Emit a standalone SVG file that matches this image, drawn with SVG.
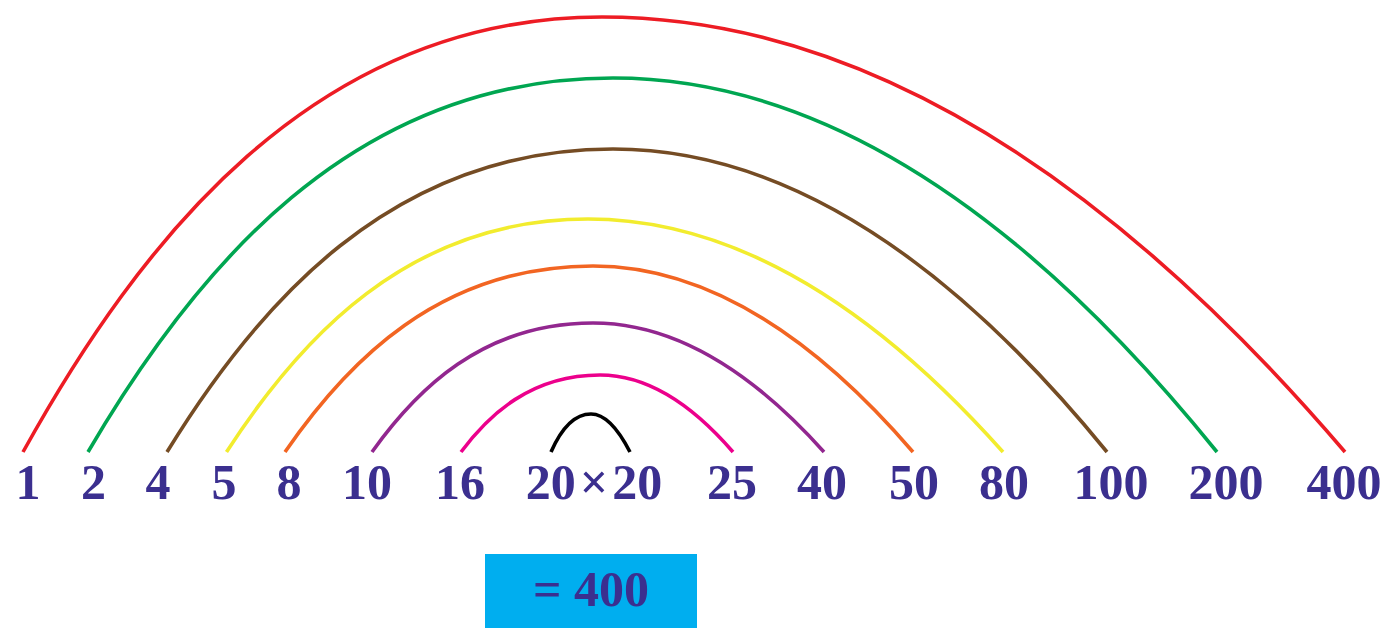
<svg xmlns="http://www.w3.org/2000/svg" width="1399" height="643" viewBox="0 0 1399 643">
<style>
.arc{fill:none;stroke-width:3.6;stroke-linecap:butt}
.lbl{font-family:"Liberation Serif","Times New Roman",serif;font-weight:bold;font-size:50px;fill:#3B2F8F;text-anchor:middle}
</style>
<rect width="1399" height="643" fill="#fff"/>
<g id="connectors">
<path class="arc" stroke="#ED1C24" d="M23,452 C138.8,243.2 312.5,17 602,17 C849.7,17 1097.3,162 1345,452"/>
<path class="arc" stroke="#00A651" d="M88,452 C193,272.5 350.5,78 613,78 C814.3,78 1015.7,202.7 1217,452"/>
<path class="arc" stroke="#754C24" d="M167,452 C256.2,306.6 390,149 613,149 C777.7,149 942.3,250 1107,452"/>
<path class="arc" stroke="#F2EC2E" d="M226.5,452 C298.8,340.2 407.25,219 588,219 C726.3,219 864.7,296.7 1003,452"/>
<path class="arc" stroke="#F26522" d="M285,452 C346.6,362.7 439,266 593,266 C699.7,266 806.3,328 913,452"/>
<path class="arc" stroke="#92278F" d="M372,452 C416.2,390.1 482.5,323 593,323 C670,323 747,366 824,452"/>
<path class="arc" stroke="#EC008C" d="M461,452 C488.8,415 530.5,375 600,375 C644.3,375 688.7,400.7 733,452"/>
<path class="arc" stroke="#000000" d="M551,452 C559,433.8 571,414 591,414 C604,414 617,426.7 630,452"/>
</g>
<g id="n1"><text class="lbl" x="28" y="499">1</text></g>
<g id="n2"><text class="lbl" x="93.5" y="499">2</text></g>
<g id="n4"><text class="lbl" x="158" y="499">4</text></g>
<g id="n5"><text class="lbl" x="224" y="499">5</text></g>
<g id="n8"><text class="lbl" x="289" y="499">8</text></g>
<g id="n10"><text class="lbl" x="367" y="499">10</text></g>
<g id="n16"><text class="lbl" x="460" y="499">16</text></g>
<g id="n20"><text class="lbl" x="594" y="499">20<tspan dx="4">×</tspan><tspan dx="4">20</tspan></text></g>
<g id="n25"><text class="lbl" x="732" y="499">25</text></g>
<g id="n40"><text class="lbl" x="822" y="499">40</text></g>
<g id="n50"><text class="lbl" x="914" y="499">50</text></g>
<g id="n80"><text class="lbl" x="1004" y="499">80</text></g>
<g id="n100"><text class="lbl" x="1111" y="499">100</text></g>
<g id="n200"><text class="lbl" x="1226" y="499">200</text></g>
<g id="n400"><text class="lbl" x="1344" y="499">400</text></g>
<g id="result">
<rect x="485" y="554" width="212" height="74" fill="#00AEEF"/>
<text class="lbl" x="591" y="606">= 400</text>
</g>
</svg>
